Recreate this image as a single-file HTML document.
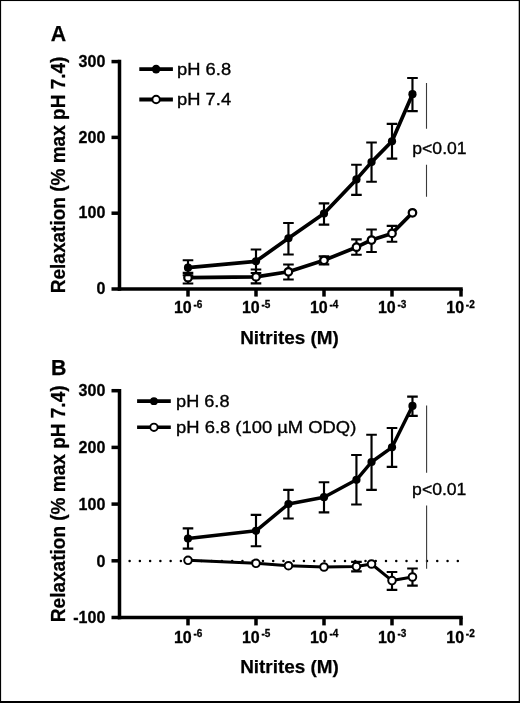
<!DOCTYPE html>
<html lang="en">
<head>
<meta charset="utf-8">
<title>Figure: Relaxation vs Nitrites</title>
<style>
html,body{margin:0;padding:0;background:#fff;}
body{width:520px;height:703px;overflow:hidden;}
svg{display:block;}
text{fill:#000;font-family:"Liberation Sans",Arial,Helvetica,sans-serif;}
</style>
</head>
<body>
<svg width="520" height="703" viewBox="0 0 520 703">
<rect x="0" y="0" width="520" height="703" fill="#fff"/>
<rect x="0" y="0" width="1.1" height="703" fill="#000"/><rect x="0" y="0" width="520" height="1.05" fill="#000"/><rect x="518.7" y="0" width="1.3" height="703" fill="#000"/><rect x="0" y="701" width="520" height="2" fill="#000"/>
<text x="50.8" y="40.7" class="t" font-weight="bold" font-size="21.33" stroke="#000" stroke-width="0.25">A</text>
<path d="M119.5 59.85V290.75" stroke="#000" stroke-width="3.5" fill="none"/>
<path d="M117.75 289.0H462.75" stroke="#000" stroke-width="3.5" fill="none"/>
<path d="M111.50 61.60H119.5" stroke="#000" stroke-width="3.5" fill="none"/>
<text x="105.3" y="66.85" text-anchor="end" class="t" font-weight="bold" font-size="16" stroke="#000" stroke-width="0.3">300</text>
<path d="M111.50 137.40H119.5" stroke="#000" stroke-width="3.5" fill="none"/>
<text x="105.3" y="142.65" text-anchor="end" class="t" font-weight="bold" font-size="16" stroke="#000" stroke-width="0.3">200</text>
<path d="M111.50 213.20H119.5" stroke="#000" stroke-width="3.5" fill="none"/>
<text x="105.3" y="218.45" text-anchor="end" class="t" font-weight="bold" font-size="16" stroke="#000" stroke-width="0.3">100</text>
<path d="M111.50 289.00H119.5" stroke="#000" stroke-width="3.5" fill="none"/>
<text x="105.3" y="294.25" text-anchor="end" class="t" font-weight="bold" font-size="16" stroke="#000" stroke-width="0.3">0</text>
<path d="M188.00 289.0V296.60" stroke="#000" stroke-width="3.5" fill="none"/>
<text x="173.90" y="313.40" class="t" font-weight="bold" font-size="16" stroke="#000" stroke-width="0.3">10<tspan font-size="10" dx="1.7" dy="-5.5">-6</tspan></text>
<path d="M256.00 289.0V296.60" stroke="#000" stroke-width="3.5" fill="none"/>
<text x="241.90" y="313.40" class="t" font-weight="bold" font-size="16" stroke="#000" stroke-width="0.3">10<tspan font-size="10" dx="1.7" dy="-5.5">-5</tspan></text>
<path d="M324.00 289.0V296.60" stroke="#000" stroke-width="3.5" fill="none"/>
<text x="309.90" y="313.40" class="t" font-weight="bold" font-size="16" stroke="#000" stroke-width="0.3">10<tspan font-size="10" dx="1.7" dy="-5.5">-4</tspan></text>
<path d="M392.00 289.0V296.60" stroke="#000" stroke-width="3.5" fill="none"/>
<text x="377.90" y="313.40" class="t" font-weight="bold" font-size="16" stroke="#000" stroke-width="0.3">10<tspan font-size="10" dx="1.7" dy="-5.5">-3</tspan></text>
<path d="M461.00 289.0V296.60" stroke="#000" stroke-width="3.5" fill="none"/>
<text x="446.30" y="313.40" class="t" font-weight="bold" font-size="16" stroke="#000" stroke-width="0.3">10<tspan font-size="10" dx="1.7" dy="-5.5">-2</tspan></text>
<text x="289.5" y="344.40" text-anchor="middle" class="t" font-weight="bold" font-size="18.9" stroke="#000" stroke-width="0.25">Nitrites (M)</text>
<text transform="translate(65 174.90) rotate(-90)" text-anchor="middle" class="t" font-weight="bold" font-size="19.6" stroke="#000" stroke-width="0.25" textLength="236.7" lengthAdjust="spacingAndGlyphs">Relaxation (% max pH 7.4)</text>
<path d="M188.00 272.90V283.50M182.70 272.90H193.30M182.70 283.50H193.30" stroke="#000" stroke-width="2.15" fill="none"/>
<path d="M256.00 269.50V283.30M250.70 269.50H261.30M250.70 283.30H261.30" stroke="#000" stroke-width="2.15" fill="none"/>
<path d="M288.44 264.50V279.50M283.14 264.50H293.74M283.14 279.50H293.74" stroke="#000" stroke-width="2.15" fill="none"/>
<path d="M324.00 256.30V264.40M318.70 256.30H329.30M318.70 264.40H329.30" stroke="#000" stroke-width="2.15" fill="none"/>
<path d="M356.44 239.30V254.70M351.14 239.30H361.74M351.14 254.70H361.74" stroke="#000" stroke-width="2.15" fill="none"/>
<path d="M371.53 229.50V252.00M366.23 229.50H376.83M366.23 252.00H376.83" stroke="#000" stroke-width="2.15" fill="none"/>
<path d="M392.00 225.80V241.70M386.70 225.80H397.30M386.70 241.70H397.30" stroke="#000" stroke-width="2.15" fill="none"/>
<path d="M188.00 277.70 L256.00 276.90 L288.44 271.75 L324.00 260.30 L356.44 247.20 L371.53 240.00 L392.00 233.40 L412.47 212.80" stroke="#000" stroke-width="3.7" fill="none" stroke-linejoin="round"/>
<circle cx="188.00" cy="277.70" r="3.75" fill="#fff" stroke="#000" stroke-width="2.25"/>
<circle cx="256.00" cy="276.90" r="3.75" fill="#fff" stroke="#000" stroke-width="2.25"/>
<circle cx="288.44" cy="271.75" r="3.75" fill="#fff" stroke="#000" stroke-width="2.25"/>
<circle cx="324.00" cy="260.30" r="3.75" fill="#fff" stroke="#000" stroke-width="2.25"/>
<circle cx="356.44" cy="247.20" r="3.75" fill="#fff" stroke="#000" stroke-width="2.25"/>
<circle cx="371.53" cy="240.00" r="3.75" fill="#fff" stroke="#000" stroke-width="2.25"/>
<circle cx="392.00" cy="233.40" r="3.75" fill="#fff" stroke="#000" stroke-width="2.25"/>
<circle cx="412.47" cy="212.80" r="3.75" fill="#fff" stroke="#000" stroke-width="2.25"/>
<path d="M188.00 260.20V275.20M182.70 260.20H193.30M182.70 275.20H193.30" stroke="#000" stroke-width="2.15" fill="none"/>
<path d="M256.00 249.50V273.00M250.70 249.50H261.30M250.70 273.00H261.30" stroke="#000" stroke-width="2.15" fill="none"/>
<path d="M288.44 223.00V254.50M283.14 223.00H293.74M283.14 254.50H293.74" stroke="#000" stroke-width="2.15" fill="none"/>
<path d="M324.00 203.30V224.60M318.70 203.30H329.30M318.70 224.60H329.30" stroke="#000" stroke-width="2.15" fill="none"/>
<path d="M356.44 164.70V194.80M351.14 164.70H361.74M351.14 194.80H361.74" stroke="#000" stroke-width="2.15" fill="none"/>
<path d="M371.53 142.50V181.70M366.23 142.50H376.83M366.23 181.70H376.83" stroke="#000" stroke-width="2.15" fill="none"/>
<path d="M392.00 123.80V158.60M386.70 123.80H397.30M386.70 158.60H397.30" stroke="#000" stroke-width="2.15" fill="none"/>
<path d="M412.47 78.00V111.10M407.17 78.00H417.77M407.17 111.10H417.77" stroke="#000" stroke-width="2.15" fill="none"/>
<path d="M188.00 267.70 L256.00 261.30 L288.44 238.25 L324.00 213.60 L356.44 179.40 L371.53 162.10 L392.00 141.30 L412.47 94.20" stroke="#000" stroke-width="3.7" fill="none" stroke-linejoin="round"/>
<circle cx="188.00" cy="267.70" r="4.1" fill="#000"/>
<circle cx="256.00" cy="261.30" r="4.1" fill="#000"/>
<circle cx="288.44" cy="238.25" r="4.1" fill="#000"/>
<circle cx="324.00" cy="213.60" r="4.1" fill="#000"/>
<circle cx="356.44" cy="179.40" r="4.1" fill="#000"/>
<circle cx="371.53" cy="162.10" r="4.1" fill="#000"/>
<circle cx="392.00" cy="141.30" r="4.1" fill="#000"/>
<circle cx="412.47" cy="94.20" r="4.1" fill="#000"/>
<path d="M139.3 69.1H172.9" stroke="#000" stroke-width="3.9"/>
<circle cx="156.10" cy="69.1" r="4.3" fill="#000"/>
<text x="177.1" y="74.55" class="t" font-size="17.4" stroke="#000" stroke-width="0.35" textLength="54.0" lengthAdjust="spacingAndGlyphs">pH 6.8</text>
<path d="M139.3 99.5H172.9" stroke="#000" stroke-width="3.9"/>
<circle cx="156.10" cy="99.5" r="3.75" fill="#fff" stroke="#000" stroke-width="2.0"/>
<text x="177.1" y="104.95" class="t" font-size="17.4" stroke="#000" stroke-width="0.35" textLength="54.0" lengthAdjust="spacingAndGlyphs">pH 7.4</text>
<path d="M426.5 83V128.7M426.5 164.7V196.8" stroke="#3a3a3a" stroke-width="1.1"/>
<text x="412.3" y="153.5" class="t" font-size="17.4" stroke="#000" stroke-width="0.35" textLength="54.3" lengthAdjust="spacingAndGlyphs">p&lt;0.01</text>
<text x="51" y="374.6" class="t" font-weight="bold" font-size="21.33" stroke="#000" stroke-width="0.25">B</text>
<path d="M119.5 388.95V619.25" stroke="#000" stroke-width="3.5" fill="none"/>
<path d="M117.75 617.5H462.75" stroke="#000" stroke-width="3.5" fill="none"/>
<path d="M111.50 390.70H119.5" stroke="#000" stroke-width="3.5" fill="none"/>
<text x="105.3" y="396.40" text-anchor="end" class="t" font-weight="bold" font-size="16" stroke="#000" stroke-width="0.3">300</text>
<path d="M111.50 447.40H119.5" stroke="#000" stroke-width="3.5" fill="none"/>
<text x="105.3" y="453.10" text-anchor="end" class="t" font-weight="bold" font-size="16" stroke="#000" stroke-width="0.3">200</text>
<path d="M111.50 504.10H119.5" stroke="#000" stroke-width="3.5" fill="none"/>
<text x="105.3" y="509.80" text-anchor="end" class="t" font-weight="bold" font-size="16" stroke="#000" stroke-width="0.3">100</text>
<path d="M111.50 560.80H119.5" stroke="#000" stroke-width="3.5" fill="none"/>
<text x="105.3" y="566.50" text-anchor="end" class="t" font-weight="bold" font-size="16" stroke="#000" stroke-width="0.3">0</text>
<path d="M111.50 617.50H119.5" stroke="#000" stroke-width="3.5" fill="none"/>
<text x="105.3" y="623.20" text-anchor="end" class="t" font-weight="bold" font-size="16" stroke="#000" stroke-width="0.3">-100</text>
<path d="M188.00 617.5V625.40" stroke="#000" stroke-width="3.5" fill="none"/>
<text x="173.90" y="642.70" class="t" font-weight="bold" font-size="16" stroke="#000" stroke-width="0.3">10<tspan font-size="10" dx="1.7" dy="-5.5">-6</tspan></text>
<path d="M256.00 617.5V625.40" stroke="#000" stroke-width="3.5" fill="none"/>
<text x="241.90" y="642.70" class="t" font-weight="bold" font-size="16" stroke="#000" stroke-width="0.3">10<tspan font-size="10" dx="1.7" dy="-5.5">-5</tspan></text>
<path d="M324.00 617.5V625.40" stroke="#000" stroke-width="3.5" fill="none"/>
<text x="309.90" y="642.70" class="t" font-weight="bold" font-size="16" stroke="#000" stroke-width="0.3">10<tspan font-size="10" dx="1.7" dy="-5.5">-4</tspan></text>
<path d="M392.00 617.5V625.40" stroke="#000" stroke-width="3.5" fill="none"/>
<text x="377.90" y="642.70" class="t" font-weight="bold" font-size="16" stroke="#000" stroke-width="0.3">10<tspan font-size="10" dx="1.7" dy="-5.5">-3</tspan></text>
<path d="M461.00 617.5V625.40" stroke="#000" stroke-width="3.5" fill="none"/>
<text x="446.30" y="642.70" class="t" font-weight="bold" font-size="16" stroke="#000" stroke-width="0.3">10<tspan font-size="10" dx="1.7" dy="-5.5">-2</tspan></text>
<text x="289.5" y="673.30" text-anchor="middle" class="t" font-weight="bold" font-size="18.9" stroke="#000" stroke-width="0.25">Nitrites (M)</text>
<text transform="translate(65 503.80) rotate(-90)" text-anchor="middle" class="t" font-weight="bold" font-size="19.6" stroke="#000" stroke-width="0.25" textLength="236.7" lengthAdjust="spacingAndGlyphs">Relaxation (% max pH 7.4)</text>
<circle cx="129.60" cy="561.10" r="1.25" fill="#000"/><circle cx="139.86" cy="561.10" r="1.25" fill="#000"/><circle cx="150.11" cy="561.10" r="1.25" fill="#000"/><circle cx="160.37" cy="561.10" r="1.25" fill="#000"/><circle cx="170.62" cy="561.10" r="1.25" fill="#000"/><circle cx="180.88" cy="561.10" r="1.25" fill="#000"/><circle cx="191.14" cy="561.10" r="1.25" fill="#000"/><circle cx="201.39" cy="561.10" r="1.25" fill="#000"/><circle cx="211.65" cy="561.10" r="1.25" fill="#000"/><circle cx="221.90" cy="561.10" r="1.25" fill="#000"/><circle cx="232.16" cy="561.10" r="1.25" fill="#000"/><circle cx="242.42" cy="561.10" r="1.25" fill="#000"/><circle cx="252.67" cy="561.10" r="1.25" fill="#000"/><circle cx="262.93" cy="561.10" r="1.25" fill="#000"/><circle cx="273.18" cy="561.10" r="1.25" fill="#000"/><circle cx="283.44" cy="561.10" r="1.25" fill="#000"/><circle cx="293.70" cy="561.10" r="1.25" fill="#000"/><circle cx="303.95" cy="561.10" r="1.25" fill="#000"/><circle cx="314.21" cy="561.10" r="1.25" fill="#000"/><circle cx="324.46" cy="561.10" r="1.25" fill="#000"/><circle cx="334.72" cy="561.10" r="1.25" fill="#000"/><circle cx="344.98" cy="561.10" r="1.25" fill="#000"/><circle cx="355.23" cy="561.10" r="1.25" fill="#000"/><circle cx="365.49" cy="561.10" r="1.25" fill="#000"/><circle cx="375.74" cy="561.10" r="1.25" fill="#000"/><circle cx="386.00" cy="561.10" r="1.25" fill="#000"/><circle cx="396.26" cy="561.10" r="1.25" fill="#000"/><circle cx="406.51" cy="561.10" r="1.25" fill="#000"/><circle cx="416.77" cy="561.10" r="1.25" fill="#000"/><circle cx="427.02" cy="561.10" r="1.25" fill="#000"/><circle cx="437.28" cy="561.10" r="1.25" fill="#000"/><circle cx="447.54" cy="561.10" r="1.25" fill="#000"/><circle cx="457.79" cy="561.10" r="1.25" fill="#000"/>
<path d="M356.44 561.80V571.40M351.14 561.80H361.74M351.14 571.40H361.74" stroke="#000" stroke-width="2.15" fill="none"/>
<path d="M392.00 572.00V589.90M386.70 572.00H397.30M386.70 589.90H397.30" stroke="#000" stroke-width="2.15" fill="none"/>
<path d="M412.47 568.50V585.60M407.17 568.50H417.77M407.17 585.60H417.77" stroke="#000" stroke-width="2.15" fill="none"/>
<path d="M188.00 560.30 L256.00 563.30 L288.44 565.70 L324.00 567.00 L356.44 566.60 L371.53 564.00 L392.00 580.60 L412.47 577.00" stroke="#000" stroke-width="3.05" fill="none" stroke-linejoin="round"/>
<circle cx="188.00" cy="560.30" r="3.8" fill="#fff" stroke="#000" stroke-width="1.95"/>
<circle cx="256.00" cy="563.30" r="3.8" fill="#fff" stroke="#000" stroke-width="1.95"/>
<circle cx="288.44" cy="565.70" r="3.8" fill="#fff" stroke="#000" stroke-width="1.95"/>
<circle cx="324.00" cy="567.00" r="3.8" fill="#fff" stroke="#000" stroke-width="1.95"/>
<circle cx="356.44" cy="566.60" r="3.8" fill="#fff" stroke="#000" stroke-width="1.95"/>
<circle cx="371.53" cy="564.00" r="3.8" fill="#fff" stroke="#000" stroke-width="1.95"/>
<circle cx="392.00" cy="580.60" r="3.8" fill="#fff" stroke="#000" stroke-width="1.95"/>
<circle cx="412.47" cy="577.00" r="3.8" fill="#fff" stroke="#000" stroke-width="1.95"/>
<path d="M188.00 528.30V548.60M182.70 528.30H193.30M182.70 548.60H193.30" stroke="#000" stroke-width="2.15" fill="none"/>
<path d="M256.00 514.80V546.20M250.70 514.80H261.30M250.70 546.20H261.30" stroke="#000" stroke-width="2.15" fill="none"/>
<path d="M288.44 489.80V518.50M283.14 489.80H293.74M283.14 518.50H293.74" stroke="#000" stroke-width="2.15" fill="none"/>
<path d="M324.00 482.20V512.30M318.70 482.20H329.30M318.70 512.30H329.30" stroke="#000" stroke-width="2.15" fill="none"/>
<path d="M356.44 455.00V504.50M351.14 455.00H361.74M351.14 504.50H361.74" stroke="#000" stroke-width="2.15" fill="none"/>
<path d="M371.53 434.70V489.80M366.23 434.70H376.83M366.23 489.80H376.83" stroke="#000" stroke-width="2.15" fill="none"/>
<path d="M392.00 428.00V466.80M386.70 428.00H397.30M386.70 466.80H397.30" stroke="#000" stroke-width="2.15" fill="none"/>
<path d="M412.47 396.60V415.80M407.17 396.60H417.77M407.17 415.80H417.77" stroke="#000" stroke-width="2.15" fill="none"/>
<path d="M188.00 538.50 L256.00 530.80 L288.44 504.00 L324.00 497.20 L356.44 479.80 L371.53 462.00 L392.00 447.30 L412.47 405.90" stroke="#000" stroke-width="3.45" fill="none" stroke-linejoin="round"/>
<circle cx="188.00" cy="538.50" r="4.1" fill="#000"/>
<circle cx="256.00" cy="530.80" r="4.1" fill="#000"/>
<circle cx="288.44" cy="504.00" r="4.1" fill="#000"/>
<circle cx="324.00" cy="497.20" r="4.1" fill="#000"/>
<circle cx="356.44" cy="479.80" r="4.1" fill="#000"/>
<circle cx="371.53" cy="462.00" r="4.1" fill="#000"/>
<circle cx="392.00" cy="447.30" r="4.1" fill="#000"/>
<circle cx="412.47" cy="405.90" r="4.1" fill="#000"/>
<path d="M137.1 401.15H170.8" stroke="#000" stroke-width="3.6"/>
<circle cx="153.95" cy="401.15" r="3.9" fill="#000"/>
<text x="176.1" y="406.60" class="t" font-size="17.4" stroke="#000" stroke-width="0.35" textLength="53.4" lengthAdjust="spacingAndGlyphs">pH 6.8</text>
<path d="M137.1 427.3H170.8" stroke="#000" stroke-width="3.6"/>
<circle cx="153.95" cy="427.3" r="3.7" fill="#fff" stroke="#000" stroke-width="1.9"/>
<text x="176.1" y="432.75" class="t" font-size="17.4" stroke="#000" stroke-width="0.35" textLength="180.2" lengthAdjust="spacingAndGlyphs">pH 6.8 (100 µM ODQ)</text>
<path d="M426.6 405.6V472.8M426.6 505.6V568.7" stroke="#3a3a3a" stroke-width="1.1"/>
<text x="412.1" y="494.9" class="t" font-size="17.4" stroke="#000" stroke-width="0.35" textLength="54.3" lengthAdjust="spacingAndGlyphs">p&lt;0.01</text>
</svg>
</body>
</html>
